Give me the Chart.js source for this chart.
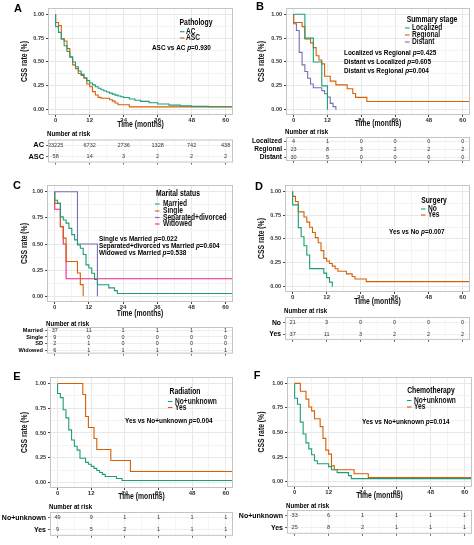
<!DOCTYPE html>
<html>
<head>
<meta charset="utf-8">
<script src="https://cdn.jsdelivr.net/npm/chart.js@4.4.1/dist/chart.umd.min.js"></script>
<style>
  html, body { margin: 0; padding: 0; background: #fff; }
  body { position: relative; width: 474px; height: 545px; overflow: hidden; }
  canvas { position: absolute; }
</style>
</head>
<body>
<script>
// months shown on the x axis and used as risk table columns
const monthTicks = [0, 12, 24, 36, 48, 60];

// A: pathology
const acMonths = [0, 0, 1, 2, 3, 4, 5, 6, 7, 8, 9, 10, 11, 12, 13, 14, 15, 16, 17, 18, 19, 20, 21, 22, 23, 24, 26, 28, 30, 33, 36, 40, 44, 48, 54, 64];
const acSurv = [1, 0.87, 0.81, 0.74, 0.67, 0.61, 0.555, 0.50, 0.45, 0.405, 0.37, 0.335, 0.305, 0.28, 0.26, 0.24, 0.225, 0.21, 0.197, 0.185, 0.174, 0.163, 0.153, 0.144, 0.136, 0.128, 0.113, 0.10, 0.088, 0.073, 0.06, 0.048, 0.04, 0.035, 0.031, 0.028];
const ascMonths = [0, 0, 1, 2, 3, 4, 5, 6, 7, 8, 9, 10, 11, 12, 13, 14, 15, 16, 19, 20, 21, 22, 26, 64];
const ascSurv = [1, 0.914, 0.88, 0.74, 0.72, 0.64, 0.55, 0.47, 0.43, 0.38, 0.36, 0.33, 0.27, 0.24, 0.19, 0.155, 0.13, 0.12, 0.105, 0.09, 0.07, 0.052, 0.03, 0.03];
const pathologyRisk = [[23225, 6732, 2736, 1328, 742, 438], [58, 14, 3, 2, 2, 2]];
const pathologyTests = [['ASC vs AC', '0.930']];

// B: summary stage
const localizedMonths = [0, 4, 7, 10, 12];
const localizedSurv = [1, 0.75, 0.5, 0.25, 0];
const regionalMonths = [0, 0, 3, 4, 6, 7, 8, 9, 10, 11, 13, 15, 19, 21, 22, 26, 64];
const regionalSurv = [1, 0.913, 0.87, 0.74, 0.70, 0.65, 0.565, 0.52, 0.48, 0.35, 0.30, 0.26, 0.22, 0.17, 0.13, 0.087, 0.087];
const distantMonths = [0, 0, 1, 2, 3, 4, 5, 6, 7, 10, 11, 12, 13, 14, 15];
const distantSurv = [1, 0.9, 0.83, 0.6, 0.47, 0.4, 0.33, 0.27, 0.23, 0.2, 0.167, 0.133, 0.067, 0.033, 0];
const stageRisk = [[4, 1, 0, 0, 0, 0], [23, 8, 3, 2, 2, 2], [30, 5, 0, 0, 0, 0]];
const stageTests = [['Localized vs Regional', '0.425'], ['Distant vs Localized', '0.605'], ['Distant vs Regional', '0.004']];

// C: marital status
const marriedMonths = [0, 0, 1, 2, 3, 4, 5, 6, 7, 8, 9, 10, 11, 12, 13, 14, 15, 19, 21, 22, 64];
const marriedSurv = [1, 0.919, 0.89, 0.76, 0.73, 0.70, 0.65, 0.59, 0.54, 0.49, 0.46, 0.40, 0.30, 0.27, 0.22, 0.16, 0.11, 0.08, 0.054, 0.027, 0.027];
const singleMonths = [0, 0, 2, 3, 4, 8, 9, 10];
const singleSurv = [1, 0.889, 0.667, 0.556, 0.333, 0.222, 0.111, 0];
const sepDivMonths = [0, 8, 15];
const sepDivSurv = [1, 0.5, 0];
const widowedMonths = [0, 0, 2, 3, 4, 64];
const widowedSurv = [1, 0.833, 0.667, 0.5, 0.167, 0.167];
const maritalRows = ['Married', 'Single', 'SD', 'Widowed'];
const maritalRisk = [[37, 11, 1, 1, 1, 1], [9, 0, 0, 0, 0, 0], [2, 1, 0, 0, 0, 0], [6, 1, 1, 1, 1, 1]];
const maritalTests = [['Single vs Married', '0.022'], ['Separated+divorced vs Married', '0.604'], ['Widowed vs Married', '0.538']];

// D: surgery
const noSurgMonths = [0, 0, 2, 3, 4, 5, 6, 11, 12, 13, 14];
const noSurgSurv = [1, 0.857, 0.619, 0.524, 0.429, 0.333, 0.19, 0.143, 0.095, 0.048, 0];
const yesSurgMonths = [0, 0, 1, 2, 4, 5, 6, 7, 8, 9, 10, 11, 12, 13, 14, 15, 16, 19, 21, 22, 26, 64];
const yesSurgSurv = [1, 0.946, 0.892, 0.784, 0.73, 0.676, 0.622, 0.568, 0.514, 0.46, 0.378, 0.297, 0.27, 0.243, 0.216, 0.189, 0.162, 0.135, 0.108, 0.081, 0.054, 0.054];
const surgeryRisk = [[21, 3, 0, 0, 0, 0], [37, 11, 3, 2, 2, 2]];
const surgeryTests = [['Yes vs No', '0.007']];

// E: radiation
const noRadMonths = [0, 0, 1, 2, 3, 4, 5, 6, 7, 8, 10, 11, 12, 13, 14, 15, 16, 17, 21, 23, 64];
const noRadSurv = [1, 0.898, 0.857, 0.735, 0.653, 0.531, 0.429, 0.367, 0.327, 0.245, 0.204, 0.184, 0.163, 0.143, 0.122, 0.102, 0.082, 0.061, 0.041, 0.02, 0.02];
const yesRadMonths = [0, 9, 10, 11, 13, 14, 19, 26, 64];
const yesRadSurv = [1, 0.889, 0.667, 0.556, 0.444, 0.333, 0.222, 0.111, 0.111];
const radiationRisk = [[49, 9, 1, 1, 1, 1], [9, 5, 2, 1, 1, 1]];
const radiationTests = [['Yes vs No+unknown', '0.004']];

// F: chemotherapy
const noChemoMonths = [0, 0, 1, 2, 3, 4, 5, 6, 7, 8, 12, 13, 15, 19, 20, 64];
const noChemoSurv = [1, 0.848, 0.788, 0.606, 0.485, 0.394, 0.333, 0.273, 0.212, 0.182, 0.152, 0.121, 0.091, 0.061, 0.03, 0.03];
const yesChemoMonths = [0, 2, 4, 5, 6, 7, 9, 10, 11, 12, 13, 14, 21, 26, 64];
const yesChemoSurv = [1, 0.92, 0.84, 0.76, 0.72, 0.64, 0.56, 0.44, 0.32, 0.28, 0.16, 0.12, 0.08, 0.04, 0.04];
const chemoRisk = [[33, 6, 1, 1, 1, 1], [25, 8, 2, 1, 1, 1]];
const chemoTests = [['Yes vs No+unknown', '0.014']];

// look
const FONT = "'Liberation Sans', Arial, sans-serif";
const SQ = 0.8; // horizontal squeeze of the figure's lettering
const GREEN = '#1b9e77', ORANGE = '#d95f02', PURPLE = '#7570b3', PINK = '#e7298a';
const FRAME = '#c4c4c4', GRID = '#e8e8e8', GRID_MINOR = '#f4f4f4';
const X_MIN = -2.7, X_MAX = 62.6, Y_MIN = -0.055, Y_MAX = 1.065;
const PANEL_W = 237;

const panels = [
  { letter: 'A', x0: 0, top: 0, letterPos: [18, 9], plot: { l: 48, t: 8, r: 233, b: 115 }, titleY: 125,
    series: [{ label: 'AC', t: acMonths, s: acSurv, color: GREEN }, { label: 'ASC', t: ascMonths, s: ascSurv, color: ORANGE }],
    legend: { title: 'Pathology', cx: 196, ty: 23, lx: 180, tx: 186, ys: [31.7, 38] },
    notes: { lines: pathologyTests, x: 152, ys: [47.5] },
    table: { rows: ['AC', 'ASC'], counts: pathologyRisk, narY: 133.5, top: 139, bottom: 164, labelSize: 7.4 } },
  { letter: 'B', x0: 237, top: 0, letterPos: [260, 7], plot: { l: 286, t: 8, r: 470, b: 115 }, titleY: 124,
    series: [{ label: 'Localized', t: localizedMonths, s: localizedSurv, color: GREEN },
             { label: 'Regional', t: regionalMonths, s: regionalSurv, color: ORANGE },
             { label: 'Distant', t: distantMonths, s: distantSurv, color: PURPLE }],
    legend: { title: 'Summary stage', cx: 432, ty: 20, lx: 405, tx: 412, ys: [28, 35, 42] },
    notes: { lines: stageTests, x: 344, ys: [53, 62, 71] },
    table: { rows: ['Localized', 'Regional', 'Distant'], counts: stageRisk, narY: 132, top: 137, bottom: 162.5, labelSize: 6.6 } },
  { letter: 'C', x0: 0, top: 170, letterPos: [17, 186], plot: { l: 47, t: 185, r: 233, b: 302 }, titleY: 314,
    series: [{ label: 'Married', t: marriedMonths, s: marriedSurv, color: GREEN },
             { label: 'Single', t: singleMonths, s: singleSurv, color: ORANGE },
             { label: 'Separated+divorced', t: sepDivMonths, s: sepDivSurv, color: PURPLE },
             { label: 'Widowed', t: widowedMonths, s: widowedSurv, color: PINK }],
    legend: { title: 'Marital status', cx: 178, ty: 194, lx: 155, tx: 163, ys: [204, 211, 217.5, 224] },
    notes: { lines: maritalTests, x: 99, ys: [239, 246, 253] },
    table: { rows: maritalRows, counts: maritalRisk, narY: 324, top: 327, bottom: 355, labelSize: 5.6 } },
  { letter: 'D', x0: 237, top: 170, letterPos: [259, 187], plot: { l: 285, t: 185, r: 470, b: 292 }, titleY: 302,
    series: [{ label: 'No', t: noSurgMonths, s: noSurgSurv, color: GREEN }, { label: 'Yes', t: yesSurgMonths, s: yesSurgSurv, color: ORANGE }],
    legend: { title: 'Surgery', cx: 434, ty: 200.5, lx: 421, tx: 428, ys: [209, 215] },
    notes: { lines: surgeryTests, x: 389, ys: [232] },
    table: { rows: ['No', 'Yes'], counts: surgeryRisk, narY: 311, top: 317, bottom: 342, labelSize: 6.8 } },
  { letter: 'E', x0: 0, top: 362, letterPos: [17, 377], plot: { l: 50, t: 377, r: 233, b: 488 }, titleY: 497,
    series: [{ label: 'No+unknown', t: noRadMonths, s: noRadSurv, color: GREEN }, { label: 'Yes', t: yesRadMonths, s: yesRadSurv, color: ORANGE }],
    legend: { title: 'Radiation', cx: 185, ty: 391.5, lx: 168, tx: 175, ys: [401.5, 407.5] },
    notes: { lines: radiationTests, x: 125, ys: [421] },
    table: { rows: ['No+unknown', 'Yes'], counts: radiationRisk, narY: 507, top: 512, bottom: 538, labelSize: 7 } },
  { letter: 'F', x0: 237, top: 362, letterPos: [257, 376], plot: { l: 287, t: 377, r: 472, b: 487 }, titleY: 496,
    series: [{ label: 'No+unknown', t: noChemoMonths, s: noChemoSurv, color: GREEN }, { label: 'Yes', t: yesChemoMonths, s: yesChemoSurv, color: ORANGE }],
    legend: { title: 'Chemotherapy', cx: 431, ty: 391, lx: 407, tx: 414, ys: [400.5, 407] },
    notes: { lines: chemoTests, x: 362, ys: [422] },
    table: { rows: ['No+unknown', 'Yes'], counts: chemoRisk, narY: 506, top: 510, bottom: 536, labelSize: 7 } }
];

const isMajorX = v => Math.abs(v % 12) < 1e-9;
const isMajorY = v => Math.abs(v * 4 - Math.round(v * 4)) < 1e-9;

function addCanvas(x, y, w, h) {
  const c = document.createElement('canvas');
  c.width = w; c.height = h;
  c.style.left = x + 'px'; c.style.top = y + 'px';
  c.style.width = w + 'px'; c.style.height = h + 'px';
  document.body.appendChild(c);
  return c;
}

// text squeezed horizontally, returns the drawn width
function sqText(ctx, text, x, y, align, rot) {
  ctx.save();
  ctx.translate(x, y);
  if (rot) ctx.rotate(rot);
  ctx.scale(SQ, 1);
  ctx.textAlign = align;
  ctx.fillText(text, 0, 0);
  const w = ctx.measureText(text).width * SQ;
  ctx.restore();
  return w;
}

function kmChart(p) {
  const h = Math.round(p.titleY + 5 - p.top);
  const cv = addCanvas(p.x0, p.top, PANEL_W, h);
  const rx = v => v - p.x0, ry = v => v - p.top;

  const textPlugin = {
    id: 'kmText',
    afterDraw(chart) {
      const ctx = chart.ctx, a = chart.chartArea;
      ctx.save();
      ctx.strokeStyle = FRAME; ctx.lineWidth = 1;
      ctx.strokeRect(a.left + 0.5, a.top + 0.5, a.right - a.left - 1, a.bottom - a.top - 1);

      ctx.fillStyle = '#000';
      ctx.textBaseline = 'middle';
      ctx.font = 'bold 11px ' + FONT;
      ctx.textAlign = 'center';
      ctx.fillText(p.letter, rx(p.letterPos[0]), ry(p.letterPos[1]));

      // axis titles
      ctx.fillStyle = '#111';
      ctx.font = 'bold 8.5px ' + FONT;
      sqText(ctx, 'Time (months)', (a.left + a.right) / 2, ry(p.titleY), 'center');
      sqText(ctx, 'CSS rate (%)', 24.5, (a.top + a.bottom) / 2, 'center', -Math.PI / 2);

      // legend
      const lg = p.legend;
      ctx.fillStyle = '#000';
      ctx.font = 'bold 8.5px ' + FONT;
      sqText(ctx, lg.title, rx(lg.cx), ry(lg.ty), 'center');
      ctx.font = 'bold 8.3px ' + FONT;
      p.series.forEach((s, i) => {
        const y = ry(lg.ys[i]);
        ctx.strokeStyle = s.color; ctx.lineWidth = 1.1;
        ctx.beginPath(); ctx.moveTo(rx(lg.lx), y); ctx.lineTo(rx(lg.lx) + 4.5, y); ctx.stroke();
        ctx.fillStyle = '#111';
        sqText(ctx, s.label, rx(lg.tx), y, 'left');
      });

      // p-values
      ctx.fillStyle = '#000';
      p.notes.lines.forEach((ln, i) => {
        let x = rx(p.notes.x);
        const y = ry(p.notes.ys[i]);
        ctx.font = 'bold 8px ' + FONT;
        x += sqText(ctx, ln[0] + ' ', x, y, 'left');
        ctx.font = 'italic bold 8px ' + FONT;
        x += sqText(ctx, 'p', x, y, 'left');
        ctx.font = 'bold 8px ' + FONT;
        sqText(ctx, '=' + ln[1], x, y, 'left');
      });
      ctx.restore();
    }
  };

  new Chart(cv, {
    type: 'line',
    data: {
      datasets: p.series.map(s => ({
        label: s.label,
        data: s.t.map((t, i) => ({ x: t, y: s.s[i] })),
        borderColor: s.color,
        borderWidth: 1.1,
        stepped: true,
        pointRadius: 0,
        fill: false
      }))
    },
    options: {
      responsive: false,
      animation: false,
      events: [],
      layout: { padding: { left: 0, top: p.plot.t - p.top, right: p.x0 + PANEL_W - p.plot.r, bottom: 0 } },
      scales: {
        x: {
          type: 'linear', min: X_MIN, max: X_MAX,
          afterFit: s => { s.height = h - ry(p.plot.b); },
          ticks: {
            stepSize: 6, includeBounds: false, autoSkip: false, maxRotation: 0, padding: -0.5,
            font: { family: FONT, size: 6, weight: 'bold' }, color: '#333',
            callback: v => isMajorX(v) ? String(v) : ''
          },
          grid: {
            color: c => isMajorX(c.tick.value) ? GRID : GRID_MINOR,
            tickLength: 2,
            tickColor: c => isMajorX(c.tick.value) ? '#444' : 'rgba(0,0,0,0)'
          },
          border: { display: false }
        },
        y: {
          type: 'linear', min: Y_MIN, max: Y_MAX,
          afterFit: s => { s.width = p.plot.l - p.x0; },
          ticks: {
            stepSize: 0.125, includeBounds: false, autoSkip: false, padding: 2,
            font: { family: FONT, size: 5.5, weight: 'bold' }, color: '#333',
            callback: v => isMajorY(v) ? v.toFixed(2) : ''
          },
          grid: {
            color: c => isMajorY(c.tick.value) ? GRID : GRID_MINOR,
            tickLength: 2,
            tickColor: c => isMajorY(c.tick.value) ? '#444' : 'rgba(0,0,0,0)'
          },
          border: { display: false }
        }
      },
      plugins: { legend: { display: false }, tooltip: { enabled: false } }
    },
    plugins: [textPlugin]
  });
}

function riskTable(p) {
  const tb = p.table;
  const top = tb.narY - 6;
  const h = Math.round(tb.bottom + 4 - top);
  const cv = addCanvas(p.x0, top, PANEL_W, h);

  const tablePlugin = {
    id: 'riskText',
    afterDatasetsDraw(chart) {
      const ctx = chart.ctx, a = chart.chartArea;
      ctx.save();
      ctx.font = '5.5px ' + FONT;
      ctx.fillStyle = '#333';
      ctx.textAlign = 'center'; ctx.textBaseline = 'middle';
      chart.data.datasets.forEach((ds, i) => {
        chart.getDatasetMeta(i).data.forEach((pt, j) => ctx.fillText(String(ds.counts[j]), pt.x, pt.y));
      });
      ctx.strokeStyle = FRAME; ctx.lineWidth = 1;
      ctx.strokeRect(a.left + 0.5, a.top + 0.5, a.right - a.left - 1, a.bottom - a.top - 1);
      ctx.fillStyle = '#000';
      ctx.font = 'bold 7.7px ' + FONT;
      sqText(ctx, 'Number at risk', a.left - 1, tb.narY - top, 'left');
      ctx.restore();
    }
  };

  new Chart(cv, {
    type: 'scatter',
    data: {
      datasets: tb.rows.map((name, i) => ({
        label: name,
        counts: tb.counts[i],
        data: monthTicks.map(m => ({ x: m, y: name })),
        pointRadius: 0
      }))
    },
    options: {
      responsive: false,
      animation: false,
      events: [],
      layout: { padding: { left: 0, top: tb.top - top, right: p.x0 + PANEL_W - p.plot.r, bottom: 0 } },
      scales: {
        x: {
          type: 'linear', min: X_MIN, max: X_MAX,
          afterFit: s => { s.height = h - (tb.bottom - top); },
          ticks: { display: false, stepSize: 6, includeBounds: false },
          grid: {
            color: c => isMajorX(c.tick.value) ? '#eeeeee' : '#f7f7f7',
            tickLength: 2,
            tickColor: c => isMajorX(c.tick.value) ? '#666' : 'rgba(0,0,0,0)'
          },
          border: { display: false }
        },
        y: {
          type: 'category', labels: tb.rows, offset: true,
          afterFit: s => { s.width = p.plot.l - p.x0; },
          ticks: { autoSkip: false, font: { family: FONT, size: tb.labelSize, weight: 'bold' }, color: '#000', padding: 2 },
          grid: { color: '#eeeeee', tickLength: 2, tickColor: '#666', offset: false },
          border: { display: false }
        }
      },
      plugins: { legend: { display: false }, tooltip: { enabled: false } }
    },
    plugins: [tablePlugin]
  });
}

panels.forEach(p => { kmChart(p); riskTable(p); });
</script>
</body>
</html>
